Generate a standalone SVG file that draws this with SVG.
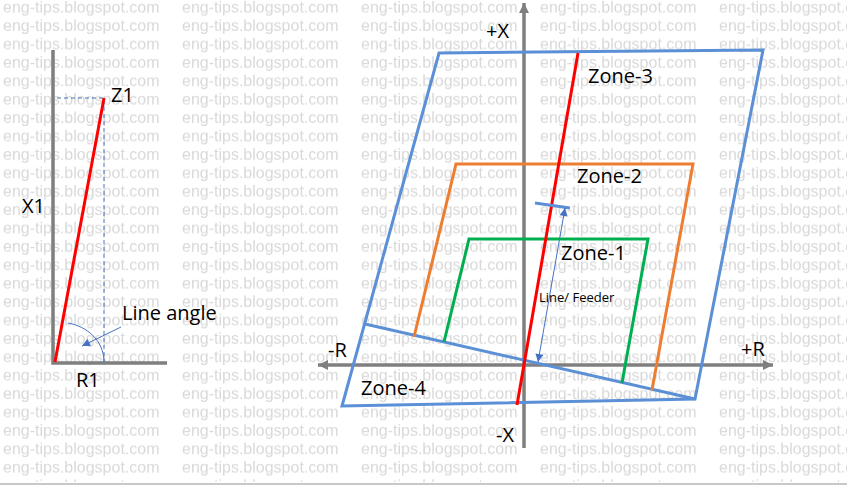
<svg xmlns="http://www.w3.org/2000/svg" width="847" height="485" viewBox="0 0 847 485">
  <style>
    .wm { font-family: "Liberation Sans", Arial, sans-serif; font-size: 16px; fill: #d9d9d9; }
    .lbl { font-family: "Open Sans", "Noto Sans", sans-serif; font-size: 20px; fill: #000; }
    .small { font-family: "Open Sans", "Noto Sans", sans-serif; font-size: 13px; fill: #000; }
    .axis { stroke: #7f7f7f; stroke-width: 3.5; fill: none; }
    .blue { stroke: #5b8fd6; stroke-width: 3; fill: none; stroke-linejoin: miter; }
    .thin { stroke: #4472c4; stroke-width: 1; fill: none; }
  </style>
  <defs>
    <pattern id="wmPat" patternUnits="userSpaceOnUse" x="0" y="0" width="179" height="18.4">
      <text class="wm" x="3" y="13">eng-tips.blogspot.com</text>
    </pattern>
    <marker id="axArrow" viewBox="0 0 10 10" refX="10" refY="5" markerWidth="10" markerHeight="10" markerUnits="userSpaceOnUse" orient="auto-start-reverse">
      <path d="M0,0 L10,5 L0,10 z" fill="#7f7f7f"/>
    </marker>
    <marker id="blueArrow" viewBox="0 0 10 10" refX="10" refY="5" markerWidth="9" markerHeight="8" markerUnits="userSpaceOnUse" orient="auto-start-reverse">
      <path d="M0,0 L10,5 L0,10 z" fill="#4472c4"/>
    </marker>
  </defs>

  <rect width="847" height="485" fill="#ffffff"/>
  <g id="watermark">
    <rect width="847" height="482" fill="url(#wmPat)"/>
    <line x1="0" y1="484" x2="847" y2="484" stroke="#c8c8c8" stroke-width="2"/>
  </g>

  <!-- Left diagram -->
  <g id="left-axes">
    <path class="axis" d="M53,50 V363 H167"/>
  </g>
  <g id="left-projection">
    <path d="M57,98 H104 V362" stroke="#4472c4" stroke-width="1" stroke-dasharray="4 3" fill="none"/>
  </g>
  <g id="left-line">
    <line x1="55" y1="362" x2="104" y2="98" stroke="#ff0000" stroke-width="3"/>
  </g>
  <g id="left-angle">
    <path class="thin" d="M68,323 C86,326 104,340 104,362"/>
  </g>
  <g id="left-labels">
    <text class="lbl" x="111" y="102">Z1</text>
    <text class="lbl" x="22" y="213">X1</text>
    <text class="lbl" x="76" y="387">R1</text>
    <text class="lbl" x="122" y="320">Line angle</text>
  </g>

  <!-- Right diagram -->
  <g id="right-axes">
    <line class="axis" x1="318" y1="365" x2="773" y2="365" marker-start="url(#axArrow)" marker-end="url(#axArrow)" style="stroke-width:3.5"/>
    <line class="axis" x1="524" y1="448" x2="524" y2="3" marker-end="url(#axArrow)"/>
    <text class="lbl" x="486" y="38">+X</text>
    <text class="lbl" x="496" y="442">-X</text>
    <text class="lbl" x="328" y="357">-R</text>
    <text class="lbl" x="741" y="356">+R</text>
  </g>

  <g id="zone-3">
    <polygon class="blue" points="439,53 763,50 695,399 342,406"/>
    <text class="lbl" x="588" y="83">Zone-3</text>
  </g>
  <g id="zone-4">
    <line class="blue" x1="365" y1="324" x2="695" y2="399"/>
    <text class="lbl" x="361" y="395">Zone-4</text>
  </g>
  <g id="zone-2">
    <polyline points="414,337 456,164 693,164 652,390" stroke="#ed7d31" stroke-width="3" fill="none"/>
    <text class="lbl" x="577" y="183">Zone-2</text>
  </g>
  <g id="zone-1">
    <polyline points="444,342 469,239 648,239 622,383" stroke="#00b050" stroke-width="3" fill="none"/>
    <text class="lbl" x="561" y="260">Zone-1</text>
  </g>
  <g id="line-feeder">
    <line x1="517" y1="405" x2="578" y2="53" stroke="#ff0000" stroke-width="3"/>
    <line class="blue" x1="535" y1="203" x2="570" y2="208"/>
    <text class="small" x="539" y="302">Line/ Feeder</text>
  </g>

  <g id="connectors">
    <line class="thin" x1="121" y1="327" x2="82" y2="346" marker-end="url(#blueArrow)"/>
    <line class="thin" x1="565" y1="208" x2="538" y2="362" marker-start="url(#blueArrow)" marker-end="url(#blueArrow)"/>
  </g>
</svg>
